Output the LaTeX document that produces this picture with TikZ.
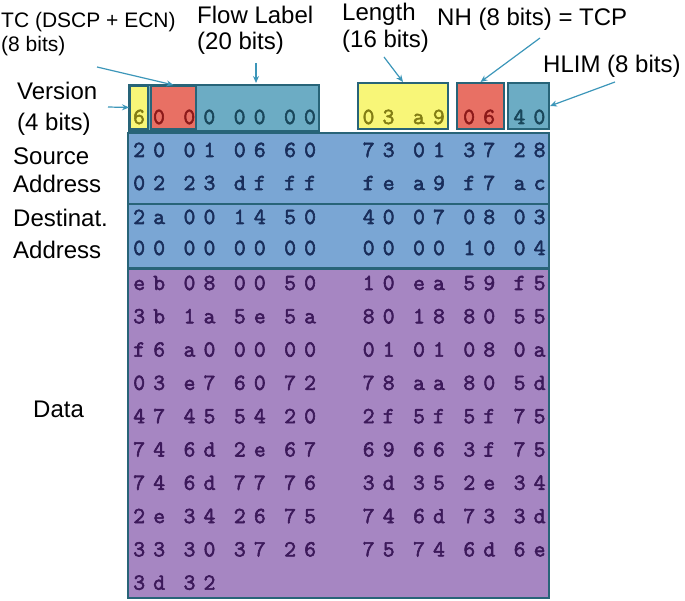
\documentclass[tikz,border=0pt]{standalone}
\usepackage{fontspec}
\setmainfont{Liberation Sans}
\setmonofont{Latin Modern Mono}[FakeBold=2.5]
\usetikzlibrary{arrows.meta}
\definecolor{yelf}{RGB}{248,246,120}
\definecolor{redf}{RGB}{232,112,100}
\definecolor{tealf}{RGB}{108,172,196}
\definecolor{bluef}{RGB}{122,166,212}
\definecolor{purf}{RGB}{166,134,194}
\definecolor{edgec}{RGB}{40,100,120}
\definecolor{arrowc}{RGB}{60,150,185}
\definecolor{olivec}{RGB}{130,125,20}
\definecolor{dredc}{RGB}{140,25,25}
\definecolor{dtealc}{RGB}{25,70,90}
\definecolor{navyc}{RGB}{25,45,90}
\definecolor{dpurc}{RGB}{60,25,90}
\newcommand\hcx[1]{\makebox[20pt][c]{#1}}
\def\hpair#1#2{\hcx{#1}\hcx{#2}}
\begin{document}
\begin{tikzpicture}[x=1pt,y=-1pt,
  fieldbox/.style={draw=edgec,line width=2pt,rectangle,inner sep=0pt,anchor=north west},
  hexnode/.style={inner sep=0pt,anchor=base west,font=\ttfamily\fontsize{23}{23}\selectfont},
  hexch/.style={inner sep=0pt,anchor=base,font=\ttfamily\fontsize{23}{23}\selectfont},
  lbl/.style={inner sep=0pt,anchor=base west,font=\fontsize{24}{28}\selectfont},
  slbl/.style={inner sep=0pt,anchor=base west,font=\fontsize{21}{24}\selectfont},
  arr/.style={draw=arrowc,line width=1.2pt,-{Stealth[length=7pt,width=6pt]}}]
\useasboundingbox (0,0) rectangle (685,601);
% header boxes
\node[fieldbox,fill=tealf,minimum width=190pt,minimum height=46pt] (flow) at (128,84) {};
\node[fieldbox,fill=yelf,minimum width=18pt,minimum height=43pt] (yel) at (129,85) {};
\node[fieldbox,fill=redf,minimum width=45pt,minimum height=43pt] (red) at (150,85) {};
\node[fieldbox,fill=yelf,minimum width=90pt,minimum height=46pt] (len) at (357,82) {};
\node[fieldbox,fill=redf,minimum width=47pt,minimum height=46pt] (nh) at (456,82) {};
\node[fieldbox,fill=tealf,minimum width=41pt,minimum height=46pt] (hlim) at (507,82) {};
% address and data boxes
\node[fieldbox,fill=bluef,minimum width=421pt,minimum height=71pt] (src) at (127,132) {};
\node[fieldbox,fill=bluef,minimum width=421pt,minimum height=64pt] (dst) at (127,203) {};
\node[fieldbox,fill=purf,minimum width=421pt,minimum height=329pt] (dat) at (127,268) {};
% header characters
\node[hexch,text=olivec] (h1) at (139,124) {6};
\node[hexch,text=dredc] (h2) at (159,124) {0};
\node[hexch,text=dredc] (h3) at (189.3,124) {0};
\node[hexch,text=dtealc] (h4) at (209.3,124) {0};
\node[hexch,text=dtealc] (h5) at (239.6,124) {0};
\node[hexch,text=dtealc] (h6) at (259.6,124) {0};
\node[hexch,text=dtealc] (h7) at (289.9,124) {0};
\node[hexch,text=dtealc] (h8) at (309.9,124) {0};
\node[hexnode,text=olivec] (h9) at (358.3,124) {\hpair03};
\node[hexnode,text=olivec] (h10) at (408.6,124) {\hpair a9};
\node[hexnode,text=dredc] (h11) at (458.9,124) {\hpair06};
\node[hexnode,text=dtealc] (h12) at (509.2,124) {\hpair40};
% byte rows
\foreach \yy/\tc/\row [count=\r] in {
  157/navyc/{20,01,06,60,73,01,37,28},
  190/navyc/{02,23,df,ff,fe,a9,f7,ac},
  224/navyc/{2a,00,14,50,40,07,08,03},
  255/navyc/{00,00,00,00,00,00,10,04},
  290/dpurc/{eb,08,00,50,10,ea,59,f5},
  323.3/dpurc/{3b,1a,5e,5a,80,18,80,55},
  356.6/dpurc/{f6,a0,00,00,01,01,08,0a},
  389.9/dpurc/{03,e7,60,72,78,aa,80,5d},
  423.2/dpurc/{47,45,54,20,2f,5f,5f,75},
  456.5/dpurc/{74,6d,2e,67,69,66,3f,75},
  489.8/dpurc/{74,6d,77,76,3d,35,2e,34},
  523.1/dpurc/{2e,34,26,75,74,6d,73,3d},
  556.4/dpurc/{33,30,37,26,75,74,6d,6e},
  589.7/dpurc/{3d,32}}{
  \foreach \bt [count=\c] in \row {
    \pgfmathsetmacro\cx{129+50.3*(\c-1)+(\c>4)*28.3}
    \node[hexnode,text=\tc] (b-\r-\c) at (\cx,\yy) {\expandafter\hpair\bt};
  }
}
% labels
\node[slbl] (ltc1) at (1,28) {TC (DSCP + ECN)};
\node[slbl] (ltc2) at (1,52) {(8 bits)};
\node[lbl] (lfl1) at (197,24) {Flow Label};
\node[lbl] (lfl2) at (197,50) {(20 bits)};
\node[lbl] (lle1) at (342,21) {Length};
\node[lbl] (lle2) at (342,48) {(16 bits)};
\node[lbl] (lnh) at (437,26) {NH (8 bits) = TCP};
\node[lbl] (lhl) at (543,73) {HLIM (8 bits)};
\node[lbl] (lve1) at (17,100) {Version};
\node[lbl] (lve2) at (17,131) {(4 bits)};
\node[lbl] (lsr1) at (13,165) {Source};
\node[lbl] (lsr2) at (13,193) {Address};
\node[lbl] (lds1) at (13,227) {Destinat.};
\node[lbl] (lds2) at (13,259) {Address};
\node[lbl] (lda) at (33,417) {Data};
% arrows
\coordinate (verS) at (108,107);
\coordinate (tcS) at (97,67);
\coordinate (flS) at (256,63);
\coordinate (flE) at (256,83);
\coordinate (lenS) at (384,57);
\coordinate (nhS) at (540,38);
\coordinate (hlS) at (615,82);
\draw[arr] (verS) -- (yel.west);
\draw[arr] (tcS) -- (red.north);
\draw[arr] (flS) -- (flE);
\draw[arr] (lenS) -- (len.north);
\draw[arr] (nhS) -- (nh.north);
\draw[arr] (hlS) -- (hlim.east);
\end{tikzpicture}
\end{document}
